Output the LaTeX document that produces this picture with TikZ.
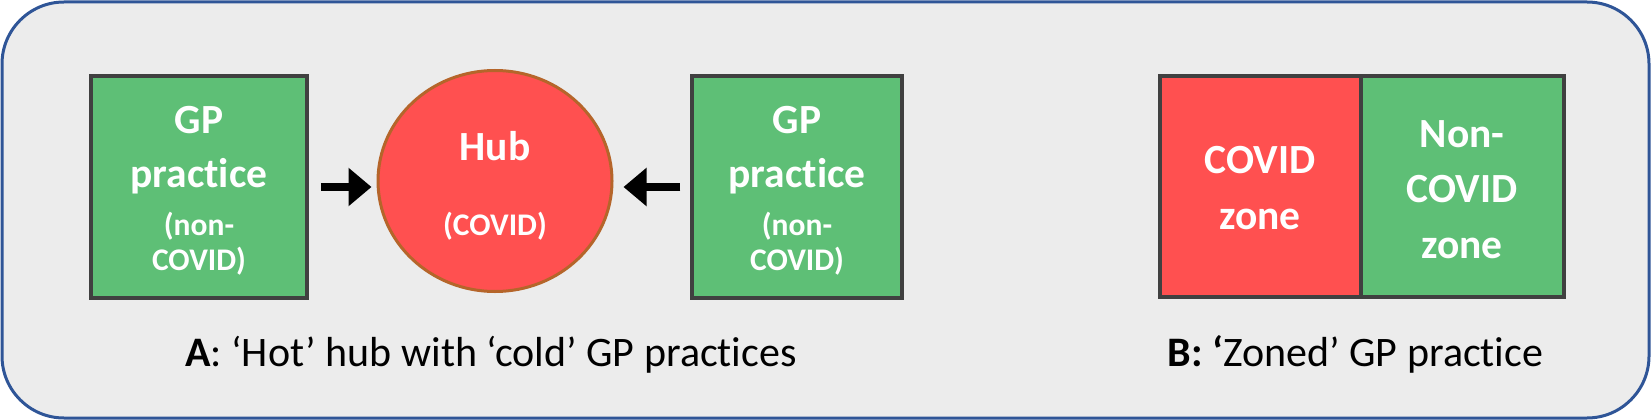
\documentclass[tikz,border=0pt]{standalone}
\usepackage{fontspec}
\setmainfont{Carlito}[Ligatures={NoCommon}]
\usetikzlibrary{arrows.meta,shapes.geometric}
\definecolor{bgfill}{HTML}{ECECEC}
\definecolor{frameblue}{HTML}{2F5597}
\definecolor{boxgreen}{HTML}{5EBF76}
\definecolor{boxred}{HTML}{FF5050}
\definecolor{boxline}{HTML}{404040}
\definecolor{hubline}{HTML}{B5652A}
\tikzset{
  x=1pt,y=-1pt,
  greenbox/.style={draw=boxline,line width=3.5pt,fill=boxgreen,rectangle,inner sep=0pt},
  redbox/.style={draw=boxline,line width=3.5pt,fill=boxred,rectangle,inner sep=0pt},
  hubshape/.style={draw=hubline,line width=3pt,fill=boxred,ellipse,inner sep=0pt},
  bigtxt/.style={anchor=base,text=white,inner sep=0pt,font=\fontsize{41.5}{49}\selectfont\bfseries},
  smalltxt/.style={anchor=base,text=white,inner sep=0pt,font=\fontsize{31.5}{37}\selectfont\bfseries},
  captxt/.style={anchor=base,text=black,inner sep=0pt,font=\fontsize{42}{50}\selectfont},
  arr/.style={line width=8pt,draw=black,-{Triangle[length=23pt,width=37pt]}}
}
\begin{document}
\begin{tikzpicture}
\useasboundingbox (0,0) rectangle (1651,420);
\draw[line width=3pt,draw=frameblue,fill=bgfill,rounded corners=62pt] (2,2) rectangle (1649,418);

% Part A
\node[greenbox,minimum width=216pt,minimum height=222pt] (gp1) at (199,187) {};
\node[hubshape,minimum width=234pt,minimum height=221pt] (hub) at (495,181) {};
\node[greenbox,minimum width=210pt,minimum height=222pt] (gp2) at (797,187) {};

\node[bigtxt] (gp1a) at (199,133) {GP};
\node[bigtxt] (gp1b) at (199,187) {practice};
\node[smalltxt] (gp1c) at (199,235) {(non-};
\node[smalltxt] (gp1d) at (199,270) {COVID)};

\node[bigtxt] (huba) at (495,160) {Hub};
\node[smalltxt] (hubb) at (495,235) {(COVID)};

\node[bigtxt] (gp2a) at (797,133) {GP};
\node[bigtxt] (gp2b) at (797,187) {practice};
\node[smalltxt] (gp2c) at (797,235) {(non-};
\node[smalltxt] (gp2d) at (797,270) {COVID)};

\draw[arr,shorten <=12pt,shorten >=5pt] (gp1.east) -- (gp1.east -| hub.west);
\draw[arr,shorten <=10pt,shorten >=10pt] (gp2.west) -- (gp2.west -| hub.east);

\node[captxt] (capA) at (491,366) {\textbf{A}: ‘Hot’ hub with ‘cold’ GP practices};

% Part B
\node[redbox,minimum width=201pt,minimum height=221pt] (zred) at (1260.5,186.5) {};
\node[greenbox,minimum width=203pt,minimum height=221pt] (zgreen) at (1462.5,186.5) {};

\node[bigtxt] (zra) at (1260,173) {COVID};
\node[bigtxt] (zrb) at (1260,229) {zone};
\node[bigtxt] (zga) at (1462,147) {Non-};
\node[bigtxt] (zgb) at (1462,202) {COVID};
\node[bigtxt] (zgc) at (1462,258) {zone};

\node[captxt] (capB) at (1355.5,366) {\textbf{B: ‘}Zoned’ GP practice};
\end{tikzpicture}
\end{document}
